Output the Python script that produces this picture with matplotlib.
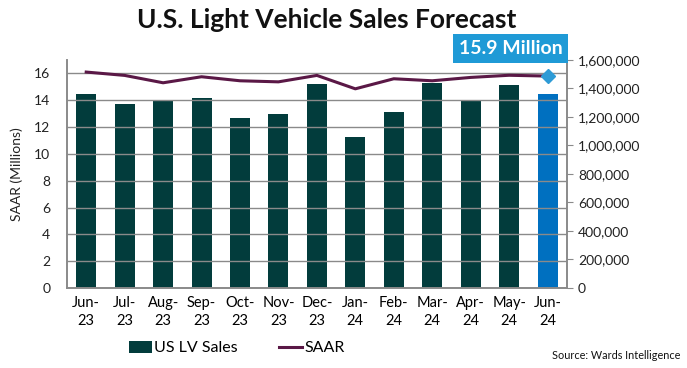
import matplotlib
matplotlib.use("Agg")
import matplotlib.pyplot as plt
from matplotlib.ticker import FuncFormatter
from matplotlib.patches import Patch
from matplotlib.lines import Line2D

months = ["Jun-\n23", "Jul-\n23", "Aug-\n23", "Sep-\n23", "Oct-\n23", "Nov-\n23", "Dec-\n23",
          "Jan-\n24", "Feb-\n24", "Mar-\n24", "Apr-\n24", "May-\n24", "Jun-\n24"]
sales = [1361000, 1291000, 1312000, 1333000, 1193000, 1221000, 1431000,
         1060000, 1235000, 1440000, 1312000, 1424000, 1361000]
saar = [16.1, 15.85, 15.3, 15.75, 15.45, 15.37, 15.85, 14.85, 15.6, 15.45, 15.7, 15.86, 15.8]
left_ticks = [0, 2, 4, 6, 8, 10, 12, 14, 16]
right_ticks = [0, 200000, 400000, 600000, 800000, 1000000, 1200000, 1400000, 1600000]

plt.rcParams['font.family'] = ['Lato', 'DejaVu Sans']

BAR = "#023c3c"
FCST = "#0070c0"
LINE = "#5a1846"
MARK = "#2e9bd6"
GRID = "#8a8a8a"

fig = plt.figure(figsize=(6.87, 3.68), dpi=100)
ax = fig.add_axes([0.0975, 0.2174, 0.7275, 0.6196])
ax2 = ax.twinx()

x = list(range(len(months)))
colors = [BAR] * (len(months) - 1) + [FCST]
ax2.bar(x, sales, width=0.52, color=colors, zorder=2)
ax2.set_ylim(0, 1600000)
ax2.set_yticks(right_ticks)
ax2.yaxis.set_major_formatter(FuncFormatter(lambda v, p: f"{int(v):,}"))

ax.set_ylim(0, 17)
ax.set_yticks(left_ticks)
ax.set_xlim(-0.5, len(months) - 0.5)
ax.grid(axis='y', color=GRID, linewidth=1.0)
ax.set_axisbelow(True)
ax.set_zorder(ax2.get_zorder() + 1)
ax.patch.set_visible(False)
ax.plot(x, saar, color=LINE, linewidth=2.2, zorder=3)
ax.plot([x[-1]], [saar[-1]], marker='D', color=MARK, markersize=7, zorder=4)

ax.set_xticks(x)
ax.set_xticklabels(months, fontsize=10.5, linespacing=1.3)
ax.tick_params(axis='x', length=0, pad=6)
ax.tick_params(axis='y', length=0, labelsize=10, pad=12, colors='#222222')
ax2.tick_params(axis='y', length=4, labelsize=10, pad=4, colors='#222222', color=GRID)
ax2.tick_params(axis='x', length=0)

for a in (ax, ax2):
    a.spines['top'].set_visible(False)
    for s in ('left', 'right', 'bottom'):
        a.spines[s].set_color(GRID)
        a.spines[s].set_linewidth(1.2)

ax.set_ylabel("SAAR (Millions)", fontsize=10, color='#222222', labelpad=8)

fig.text(0.475, 0.945, "U.S. Light Vehicle Sales Forecast", ha='center', va='center',
         fontsize=19, fontweight='bold', color='#111111')

fig.text(0.743, 0.868, "15.9 Million", ha='center', va='center', fontsize=14,
         fontweight='bold', color='white',
         bbox=dict(boxstyle='square,pad=0.3', facecolor='#1f9ad6', edgecolor='none'))

handles = [Patch(facecolor=BAR, edgecolor='none'),
           Line2D([0], [0], color=LINE, linewidth=2.2)]
fig.legend(handles, ["US LV Sales", "SAAR"], loc='center', bbox_to_anchor=(0.345, 0.054),
           ncol=2, frameon=False, fontsize=11.5, handlelength=1.4, handletextpad=0.15,
           columnspacing=2.6, handleheight=0.8)

fig.text(0.99, 0.035, "Source: Wards Intelligence", ha='right', va='center', fontsize=7.8,
         color='#111111')

fig.savefig("out.png", dpi=100)
